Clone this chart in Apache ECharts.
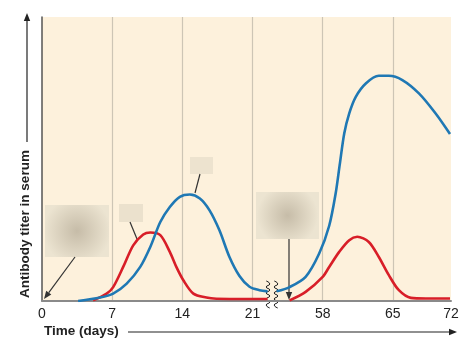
<!DOCTYPE html>
<html>
<head>
<meta charset="utf-8">
<script src="https://cdn.jsdelivr.net/npm/echarts@6/dist/echarts.min.js"></script>
<style>
  html, body { margin: 0; padding: 0; background: #fff; }
  #chart { width: 474px; height: 352px; }
</style>
</head>
<body>
<div id="chart"></div>
<script>
// x positions are axis slots (break between 21 and 58), y is titer on a 0-100 scale
var tickPositions = [0, 7, 14, 21, 28, 35, 40.8];
var tickLabels = ['0', '7', '14', '21', '58', '65', '72'];

// primary response (before the break)
var blueEarly = [[3.6, 0], [5.8, 1.2], [7.1, 2.6], [8.45, 6.1], [9.8, 12.0], [10.8, 19.0],
  [11.8, 27.8], [12.75, 33.1], [13.75, 36.7], [14.75, 37.5], [15.75, 36.1], [16.7, 32.0],
  [17.7, 24.9], [18.7, 15.5], [19.7, 8.8], [20.7, 5.0], [21.7, 3.8], [22.5, 3.4]];
var redEarly = [[5.1, 0.2], [6.45, 2.6], [7.1, 4.9], [8.1, 12.0], [9.1, 19.6], [10.1, 23.4],
  [10.8, 24.1], [11.8, 23.2], [12.75, 17.3], [13.4, 12.0], [14.1, 7.3], [15.1, 2.6],
  [16.4, 1.2], [17.4, 0.8], [20.7, 0.7], [22.5, 0.7]];

// secondary response (after the break)
var blueLate = [[23.4, 3.4], [24.7, 4.9], [26.3, 8.5], [27.65, 16.7], [28.65, 26.5],
  [29.3, 38.0], [29.7, 48.0], [30.15, 59.0], [30.65, 66.1], [31.3, 71.9], [32.3, 76.6],
  [33.6, 79.3], [34.6, 79.3], [35.95, 77.8], [37.6, 73.1], [39.25, 66.1], [40.7, 58.8]];
var redLate = [[24.7, 0.2], [26.3, 3.2], [28.0, 8.5], [28.65, 12.0], [29.65, 17.3],
  [30.65, 21.4], [31.45, 22.6], [32.6, 20.8], [33.6, 15.5], [34.6, 9.1], [35.6, 3.8],
  [36.8, 1.1], [38.3, 0.9], [40.7, 0.9]];

var BLUE = '#1f78b4';
var RED = '#d81e28';
var FONT = '"Liberation Sans", Arial, sans-serif';

function arrow(x1, y1, x2, y2, color) {
  var a = Math.atan2(y2 - y1, x2 - x1);
  var L = 8, W = 3.2;
  var bx = x2 - L * Math.cos(a), by = y2 - L * Math.sin(a);
  return [
    { type: 'line', shape: { x1: x1, y1: y1, x2: bx, y2: by }, style: { stroke: color, lineWidth: 1.2 } },
    { type: 'polygon', shape: { points: [[x2, y2], [bx + W * Math.sin(a), by - W * Math.cos(a)], [bx - W * Math.sin(a), by + W * Math.cos(a)]] }, style: { fill: color } }
  ];
}

function squiggle(x, y1, y2) {
  var pts = [];
  var k = 0;
  for (var y = y1; y <= y2; y += 3) {
    pts.push([x + (k % 2 === 0 ? -1.8 : 1.8), y]);
    k++;
  }
  return { type: 'polyline', shape: { points: pts, smooth: 0.6 }, style: { stroke: '#222', lineWidth: 1, fill: null } };
}

function blurBox(x, y, w, h) {
  return {
    type: 'rect', shape: { x: x, y: y, width: w, height: h },
    style: {
      fill: { type: 'radial', x: 0.5, y: 0.5, r: 0.65,
        colorStops: [{ offset: 0, color: '#c6bca8' }, { offset: 1, color: '#ece4d1' }] }
    }
  };
}

var graphics = [
  { type: 'text', x: 25, y: 224, rotation: Math.PI / 2,
    style: { text: 'Antibody titer in serum', font: 'bold 13.5px ' + FONT, fill: '#222', align: 'center', verticalAlign: 'middle' } },
  { type: 'text', x: 44, y: 331,
    style: { text: 'Time (days)', font: 'bold 13.5px ' + FONT, fill: '#222', align: 'left', verticalAlign: 'middle' } },
  blurBox(45, 205, 64, 52),
  { type: 'rect', shape: { x: 119, y: 204, width: 24, height: 18 }, style: { fill: '#ebe1cd' } },
  { type: 'rect', shape: { x: 190, y: 157, width: 23, height: 17 }, style: { fill: '#ede3cf' } },
  blurBox(256, 192, 63, 47),
  { type: 'line', shape: { x1: 130, y1: 222, x2: 137, y2: 239 }, style: { stroke: '#333', lineWidth: 1.2 } },
  { type: 'line', shape: { x1: 200, y1: 174, x2: 195, y2: 193 }, style: { stroke: '#333', lineWidth: 1.2 } },
  squiggle(268, 281, 310),
  squiggle(276, 281, 310)
].concat(
  arrow(27, 142, 27, 13, '#222'),
  arrow(128, 332, 457, 332, '#222'),
  arrow(75, 257, 44, 299, '#333'),
  arrow(289, 239, 289, 300, '#333')
);

var lineSeries = function (data, color) {
  return { type: 'line', data: data, smooth: 0.3, showSymbol: false,
    lineStyle: { color: color, width: 2.6 } };
};

var chart = echarts.init(document.getElementById('chart'));
chart.setOption({
  animation: false,
  grid: { left: 42, right: 23, top: 17, bottom: 51, show: true, backgroundColor: '#fdf1dc', borderWidth: 0 },
  xAxis: {
    type: 'value', min: 0, max: 40.8, interval: 7,
    axisLine: { show: true, lineStyle: { color: '#8a8a8a', width: 2 } },
    axisTick: { show: false },
    axisLabel: {
      margin: 6, color: '#222', fontSize: 14, fontFamily: FONT,
      showMinLabel: true, showMaxLabel: true,
      formatter: function (v) {
        for (var i = 0; i < tickPositions.length; i++) {
          if (Math.abs(tickPositions[i] - v) < 0.01) return tickLabels[i];
        }
        return '';
      }
    },
    splitLine: { show: true, showMinLine: false, showMaxLine: false, lineStyle: { color: '#cdc5b5', width: 1.2 } }
  },
  yAxis: {
    type: 'value', min: 0, max: 100,
    axisLine: { show: true, lineStyle: { color: '#555', width: 1.5 } },
    axisTick: { show: false }, axisLabel: { show: false }, splitLine: { show: false }
  },
  series: [
    lineSeries(redEarly, RED),
    lineSeries(blueEarly, BLUE),
    lineSeries(redLate, RED),
    lineSeries(blueLate, BLUE)
  ],
  graphic: graphics
});
</script>
</body>
</html>
